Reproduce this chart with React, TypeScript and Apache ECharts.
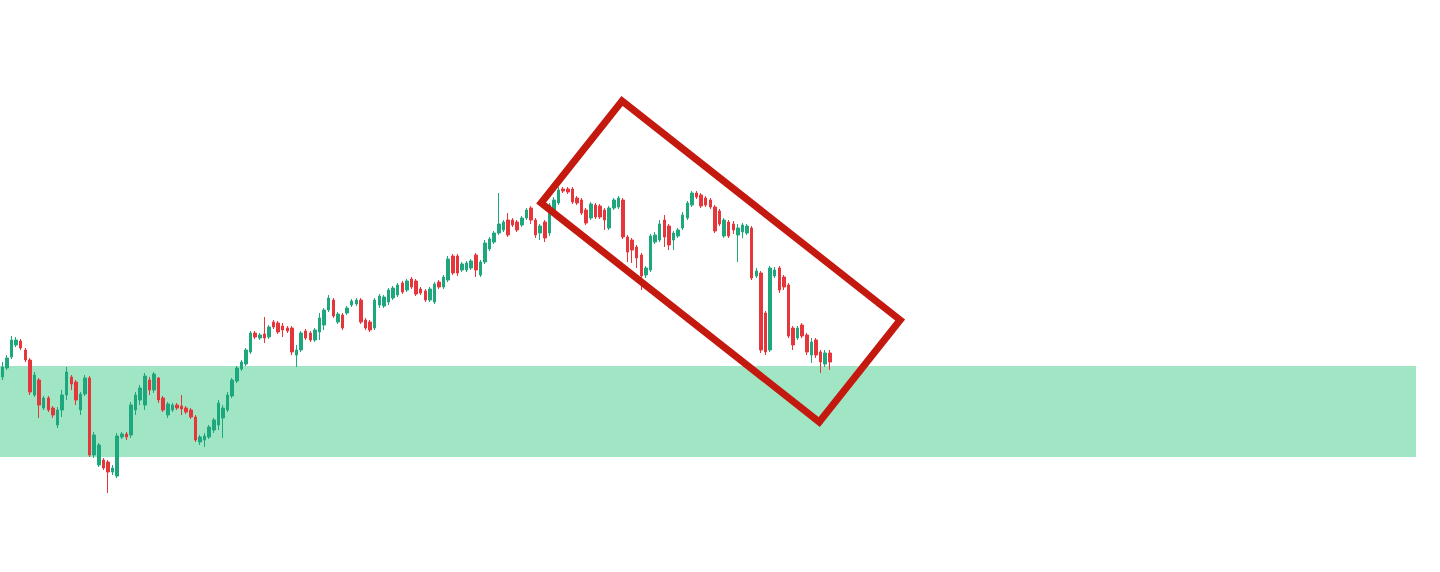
import React, { useEffect, useRef } from "react";
import * as echarts from "echarts";

// Candle values (arbitrary price units)
const opens = [195,204,215,227,231,222,212,177,192,164,174,164,147,162,177,195,190,162,178,194,117,107,112,110,100,96,135,138,137,162,172,167,192,182,194,174,157,162,167,166,164,162,155,130,132,135,142,147,154,162,176,191,203,208,220,239,234,238,235,250,249,246,244,244,217,222,241,239,232,240,247,262,272,250,257,259,267,268,272,252,250,244,267,266,270,274,277,289,282,293,291,283,281,272,270,290,285,292,316,316,302,302,304,317,297,310,323,330,339,342,352,352,350,347,354,364,352,339,350,339,362,369,383,383,383,374,372,362,354,367,366,362,344,364,365,372,335,332,325,317,297,302,330,332,352,346,332,336,344,354,367,379,377,374,372,365,361,336,350,348,337,340,339,344,296,299,259,222,296,304,295,287,244,234,247,237,217,232,220,208,219];
const closes = [205,214,232,232,224,212,180,197,167,174,162,157,162,177,200,188,172,178,194,117,137,127,104,100,104,136,138,135,167,177,184,196,182,198,172,162,168,167,164,163,160,155,132,135,136,145,152,169,164,177,192,204,210,222,239,235,237,234,245,245,240,242,241,220,222,239,234,232,242,254,262,274,256,258,244,264,271,272,250,244,242,272,276,275,282,284,287,280,291,285,278,279,272,283,288,285,295,313,299,299,308,309,311,302,310,329,333,339,348,350,337,347,342,354,362,352,337,346,334,367,372,382,381,380,370,369,359,349,368,355,355,352,364,372,374,335,320,322,314,296,304,336,337,348,335,327,339,342,357,369,379,375,366,367,365,341,348,352,336,342,344,347,346,294,301,222,220,304,302,282,285,236,227,244,236,220,230,217,210,219,210];
const lows = [192,202,213,225,222,210,177,175,154,162,160,154,144,155,172,182,167,157,176,115,114,105,102,79,97,94,133,132,134,157,167,162,177,179,169,160,154,160,162,157,158,153,130,127,125,133,139,142,134,160,174,189,201,206,218,233,232,229,233,243,238,235,239,217,205,220,232,230,230,232,242,260,254,248,242,257,265,266,248,242,240,242,264,264,267,272,275,278,280,283,276,277,270,270,268,283,283,290,297,296,300,300,302,295,295,308,321,328,337,340,335,345,340,345,352,348,334,332,330,336,360,367,379,378,368,367,357,347,352,353,353,342,342,362,363,333,310,309,304,282,294,300,328,330,325,322,322,334,342,352,365,373,364,365,363,339,346,334,334,338,310,334,337,292,294,219,217,220,294,279,282,234,222,232,234,217,209,214,199,205,202];
const highs = [210,217,236,235,233,224,214,200,194,176,176,166,165,182,205,197,192,180,197,196,140,129,114,112,107,139,140,140,170,180,187,199,195,200,195,176,170,169,169,177,166,164,157,137,139,147,154,172,167,180,194,206,212,224,241,241,239,255,247,252,251,249,246,246,227,241,243,241,244,259,264,277,274,260,259,266,273,274,274,254,252,274,278,277,284,286,289,291,293,295,293,285,283,285,290,292,297,316,318,318,310,311,313,319,312,332,335,341,379,352,359,354,352,356,364,366,354,348,352,369,375,385,385,385,385,376,374,364,370,369,368,364,366,374,376,374,337,334,327,319,306,338,340,352,357,348,341,344,360,371,381,381,379,376,374,367,363,354,352,351,348,349,348,346,304,301,261,306,305,306,297,289,246,246,249,239,234,234,222,222,222];

// Support zone (price range) and falling channel corners (candle index, price)
const zoneRange = [115, 206];
const channelIndex = [117.2, 134.8, 195.3, 177.7];
const channelPrice = [369, 471, 252, 150];

const categoryCount = 308;
const categories = Array.from({ length: categoryCount }, (_, i) => String(i + 1));

export default function App() {
  const ref = useRef<HTMLDivElement>(null);
  useEffect(() => {
    if (!ref.current) return;
    const chart = echarts.init(ref.current, null, { renderer: "svg" });
    const candles = opens.map((o, i) => [o, closes[i], lows[i], highs[i]]);
    chart.setOption({
      animation: false,
      backgroundColor: "#ffffff",
      grid: { left: 0, right: 24, top: 0, bottom: 0 },
      xAxis: [
        {
          type: "category",
          data: categories,
          boundaryGap: true,
          show: false,
        },
        {
          type: "value",
          min: -0.5,
          max: categoryCount - 0.5,
          show: false,
        },
      ],
      yAxis: { type: "value", min: 0, max: 572, show: false },
      series: [
        {
          type: "candlestick",
          data: candles,
          barWidth: 3,
          itemStyle: {
            color: "#1ea67c",
            color0: "#e5363c",
            borderColor: "#1ea67c",
            borderColor0: "#e5363c",
            borderWidth: 1,
          },
          markArea: {
            silent: true,
            itemStyle: { color: "#a1e6c4", opacity: 1 },
            data: [[{ yAxis: zoneRange[0] }, { yAxis: zoneRange[1] }]],
          },
          z: 3,
        },
        {
          type: "custom",
          xAxisIndex: 1,
          clip: false,
          silent: true,
          z: 5,
          data: [0],
          renderItem: (_params: any, api: any) => {
            const points = channelIndex.map((idx, k) => api.coord([idx, channelPrice[k]]));
            return {
              type: "polygon",
              shape: { points },
              style: {
                fill: "none",
                stroke: "#c3190f",
                lineWidth: 7,
                lineJoin: "miter",
              },
            };
          },
        },
      ],
    });
    return () => chart.dispose();
  }, []);
  return (
    <div
      ref={ref}
      style={{ position: "fixed", left: 0, top: 0, width: 1440, height: 572 }}
    />
  );
}
